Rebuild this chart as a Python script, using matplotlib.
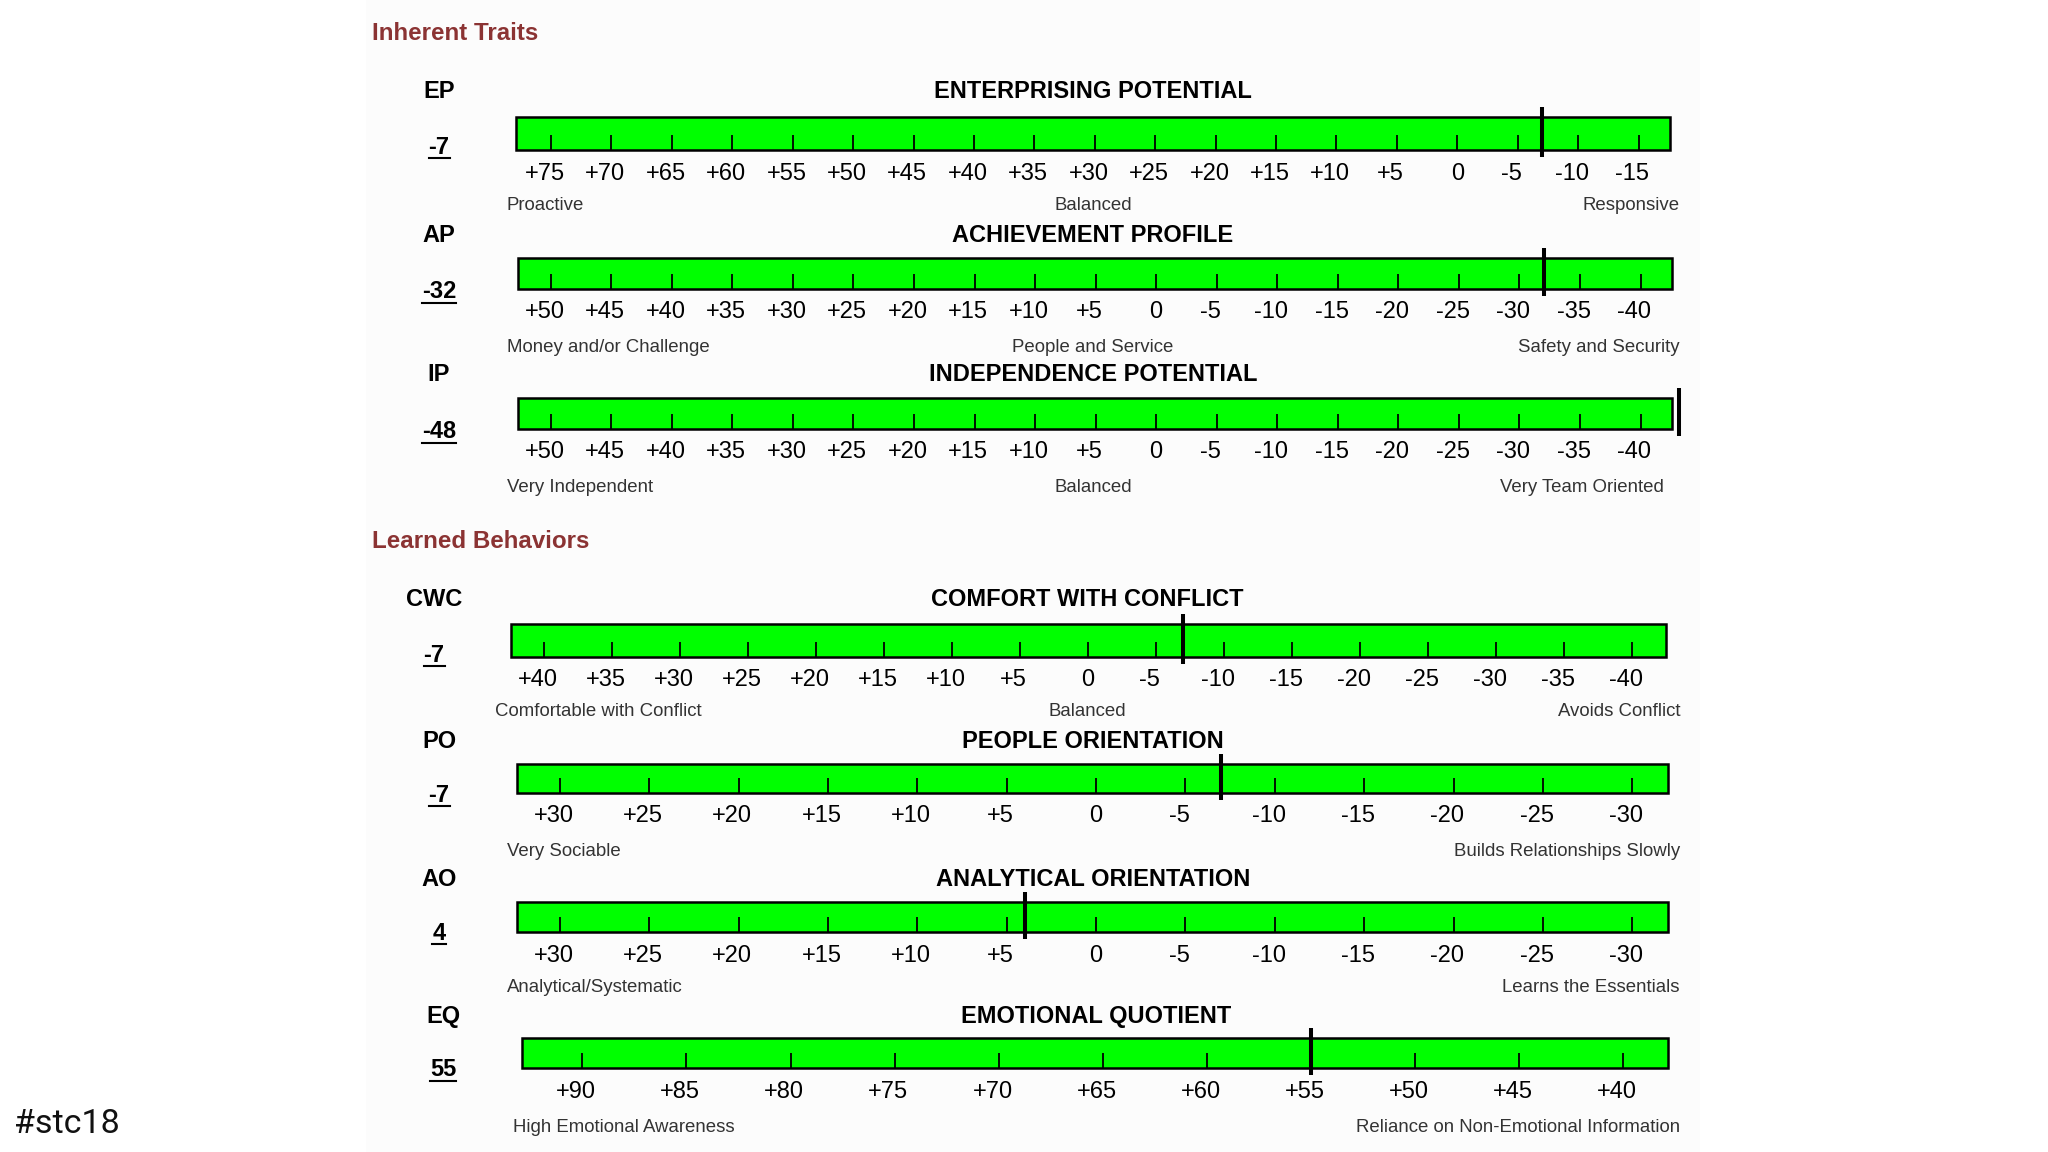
import matplotlib
matplotlib.use("Agg")
import matplotlib.pyplot as plt
import matplotlib.transforms as mtransforms
from matplotlib.lines import Line2D
from matplotlib.patches import Rectangle
import numpy as np

plt.rcParams['font.family'] = ['Liberation Sans', 'DejaVu Sans']

W, H = 2048, 1152

# ---- data ----
sections = ["Inherent Traits", "Learned Behaviors"]
codes = ["EP", "AP", "IP", "CWC", "PO", "AO", "EQ"]
titles = ["ENTERPRISING POTENTIAL", "ACHIEVEMENT PROFILE", "INDEPENDENCE POTENTIAL",
          "COMFORT WITH CONFLICT", "PEOPLE ORIENTATION", "ANALYTICAL ORIENTATION",
          "EMOTIONAL QUOTIENT"]
scores = [-7, -32, -48, -7, -7, 4, 55]
tick_values = [
    [75, 70, 65, 60, 55, 50, 45, 40, 35, 30, 25, 20, 15, 10, 5, 0, -5, -10, -15],
    [50, 45, 40, 35, 30, 25, 20, 15, 10, 5, 0, -5, -10, -15, -20, -25, -30, -35, -40],
    [50, 45, 40, 35, 30, 25, 20, 15, 10, 5, 0, -5, -10, -15, -20, -25, -30, -35, -40],
    [40, 35, 30, 25, 20, 15, 10, 5, 0, -5, -10, -15, -20, -25, -30, -35, -40],
    [30, 25, 20, 15, 10, 5, 0, -5, -10, -15, -20, -25, -30],
    [30, 25, 20, 15, 10, 5, 0, -5, -10, -15, -20, -25, -30],
    [90, 85, 80, 75, 70, 65, 60, 55, 50, 45, 40],
]
scale_ranges = [(77.9, -17.6), (52.7, -42.6), (52.7, -42.6), (42.4, -42.5),
                (32.4, -32.0), (32.4, -32.0), (92.9, 37.85)]
left_labels = ["Proactive", "Money and/or Challenge", "Very Independent",
               "Comfortable with Conflict", "Very Sociable", "Analytical/Systematic",
               "High Emotional Awareness"]
mid_labels = ["Balanced", "People and Service", "Balanced", "Balanced", "", "", ""]
right_labels = ["Responsive", "Safety and Security", "Very Team Oriented",
                "Avoids Conflict", "Builds Relationships Slowly", "Learns the Essentials",
                "Reliance on Non-Emotional Information"]

# ---- layout (pixels) ----
bar_boxes = [(516, 1670, 117, 150), (518, 1672, 258, 289), (518, 1672, 398, 429),
             (511, 1666, 624, 657), (517, 1668, 764, 793), (517, 1668, 902, 932),
             (522, 1668, 1038, 1068)]
heading_y = [91, 235, 375, 599, 741, 879, 1016]
score_y = [147, 292, 432, 655, 795, 933, 1070]
desc_y = [205, 348, 488, 712, 851, 988, 1127]
code_x = [439, 439, 439, 434, 439, 439, 443]
title_x = [1093, 1093, 1093, 1087, 1093, 1093, 1096]
left_x = [507, 507, 507, 495, 507, 507, 513]
right_x = [1680, 1680, 1664, 1680, 1680, 1680, 1680]
section_y = [34, 542]

header_color = '#8b3333'
desc_color = '#333333'
green = '#00ff00'


def fx(x):
    return x / W


def fy(y):
    return 1 - y / H


fig = plt.figure(figsize=(W / 100, H / 100), dpi=100)
fig.patch.set_facecolor('white')
fig.add_artist(Rectangle((fx(366), 0), fx(1700) - fx(366), 1, transform=fig.transFigure,
                         facecolor='#fcfcfc', edgecolor='none', zorder=-10))

for name, y in zip(sections, section_y):
    fig.text(fx(372), fy(y), name, fontsize=17.4, fontweight='bold', color=header_color,
             ha='left', va='center')

# signed labels sit a little left of their tick in the original
label_shift = mtransforms.ScaledTranslation(-4.5 / 72, 0, fig.dpi_scale_trans)

score_texts = []
for i in range(len(codes)):
    x0, x1, y0, y1 = bar_boxes[i]
    bh = y1 - y0
    ax = fig.add_axes([fx(x0), fy(y1), (x1 - x0) / W, bh / H])
    lo, hi = scale_ranges[i]
    ax.set_xlim(lo, hi)
    ax.set_ylim(0, 1)
    for s in ax.spines.values():
        s.set_visible(False)
    ax.patch.set_alpha(0)
    ax.barh(0.5, hi - lo, left=lo, height=1, color=green, edgecolor='black',
            linewidth=1.8, clip_on=False, zorder=1)
    ticks = tick_values[i]
    labels = ["0" if t == 0 else f"{t:+d}" for t in ticks]
    ax.set_xticks(ticks)
    ax.set_xticklabels(labels)
    ax.tick_params(axis='x', direction='in', length=10.5, width=1.3, pad=9,
                   labelsize=17, color='black')
    for t, lab in zip(ticks, ax.get_xticklabels()):
        if t != 0:
            lab.set_transform(lab.get_transform() + label_shift)
    for tl in ax.get_xticklines():
        tl.set_zorder(3)
    ax.set_yticks([])
    mval = np.clip(scores[i], min(lo, hi) - 0.6, max(lo, hi) + 0.6)
    ax.vlines(mval, -7 / bh, 1 + 10 / bh, color='black', linewidth=2.9,
              clip_on=False, zorder=5)

    fig.text(fx(code_x[i]), fy(heading_y[i]), codes[i], fontsize=17, fontweight='bold',
             ha='center', va='center')
    fig.text(fx(title_x[i]), fy(heading_y[i]), titles[i], fontsize=17, fontweight='bold',
             ha='center', va='center')
    st = fig.text(fx(code_x[i]), fy(score_y[i]), str(scores[i]), fontsize=17,
                  fontweight='bold', ha='center', va='center')
    score_texts.append(st)

    fig.text(fx(left_x[i]), fy(desc_y[i]), left_labels[i], fontsize=13.4, color=desc_color,
             ha='left', va='center')
    if mid_labels[i]:
        fig.text(fx(title_x[i]), fy(desc_y[i]), mid_labels[i], fontsize=13.4,
                 color=desc_color, ha='center', va='center')
    fig.text(fx(right_x[i]), fy(desc_y[i]), right_labels[i], fontsize=13.4,
             color=desc_color, ha='right', va='center')

fig.text(fx(14), fy(1133), "#stc18", fontsize=24.5, family='Roboto', ha='left',
         va='baseline', color='#111111')

# underline the scores
fig.canvas.draw()
renderer = fig.canvas.get_renderer()
for st in score_texts:
    bb = st.get_window_extent(renderer)
    yline = bb.y0 + 1
    fig.add_artist(Line2D([bb.x0 / W, bb.x1 / W], [yline / H, yline / H],
                          transform=fig.transFigure, color='black', linewidth=1.5))

fig.savefig("out.png", dpi=100)
